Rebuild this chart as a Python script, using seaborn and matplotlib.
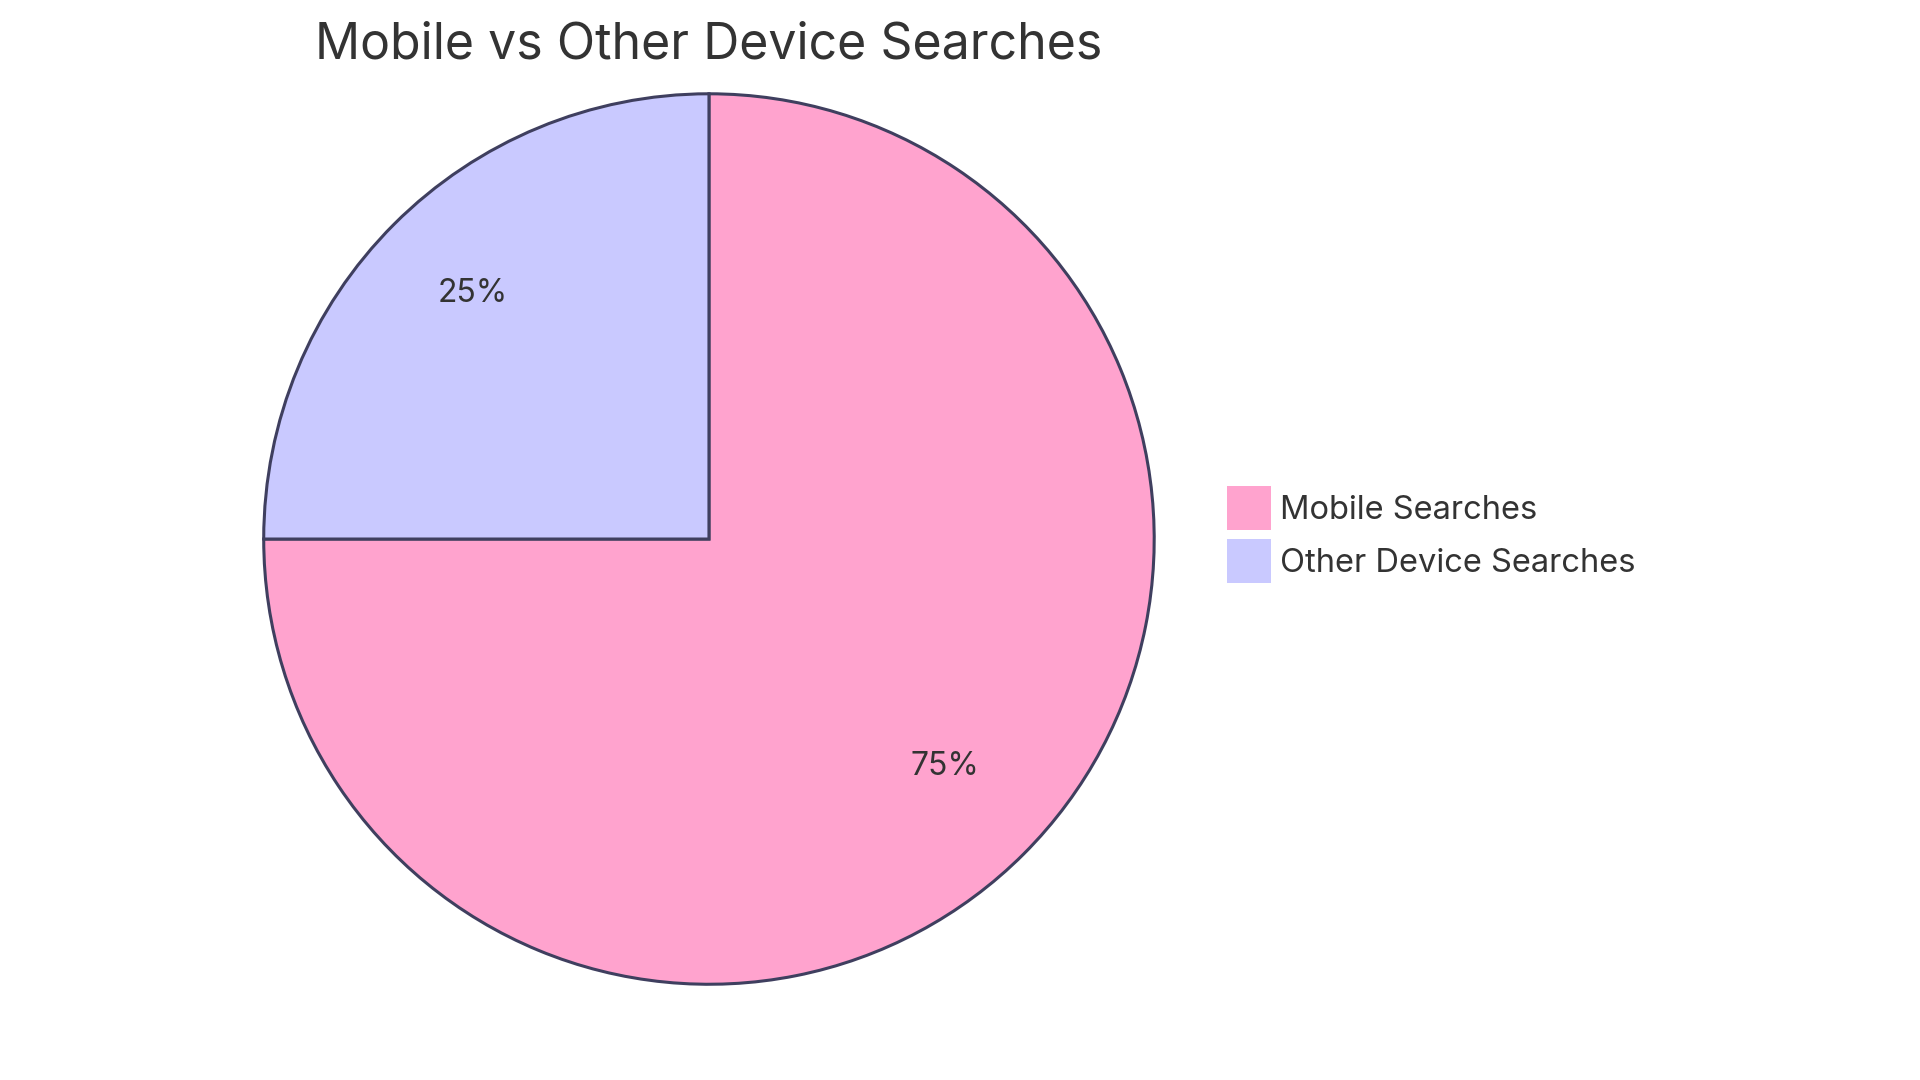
import matplotlib
matplotlib.use('Agg')
import matplotlib.pyplot as plt
import seaborn as sns

# 数据
labels = ['Mobile Searches', 'Other Device Searches']
values = [75, 25]
colors = ['#FFA3CE', '#C9C9FF']

sns.set_theme(style='white')
plt.rcParams['font.family'] = ['Inter', 'DejaVu Sans']

fig = plt.figure(figsize=(19.2, 10.8), dpi=100)
# 饼图所在区域（圆心约在 709,539 像素，半径约 446 像素）
ax = fig.add_axes([0.1385, 0.0907, 0.4615, 0.8204])

wedges, texts, autotexts = ax.pie(values, colors=colors, startangle=90, counterclock=False,
                                  autopct='%1.0f%%', pctdistance=0.75,
                                  wedgeprops=dict(edgecolor='#3f3f5f', linewidth=2.2),
                                  textprops=dict(color='#333333', fontsize=23))
# 百分比标签略微上移
for t in autotexts:
    x, y = t.get_position()
    t.set_position((x, y + 0.02))
ax.set_xlim(-0.995, 0.995)
ax.set_ylim(-0.995, 0.995)
ax.set_aspect('equal')
ax.axis('off')

# 标题
fig.text(709 / 1920, 1 - 45 / 1080, 'Mobile vs Other Device Searches', ha='center', va='center',
         fontsize=36, color='#333333')

# 图例
fig.legend(wedges, labels, loc='upper left', bbox_to_anchor=(1227 / 1920, 1 - 486 / 1080),
           frameon=False, fontsize=23.5, handlelength=1.35, handleheight=1.7,
           handletextpad=0.28, labelspacing=0.27, borderpad=0, borderaxespad=0,
           labelcolor='#333333')
for h in fig.legends[0].legend_handles:
    h.set_edgecolor('none')

fig.savefig('out.png', dpi=100)
